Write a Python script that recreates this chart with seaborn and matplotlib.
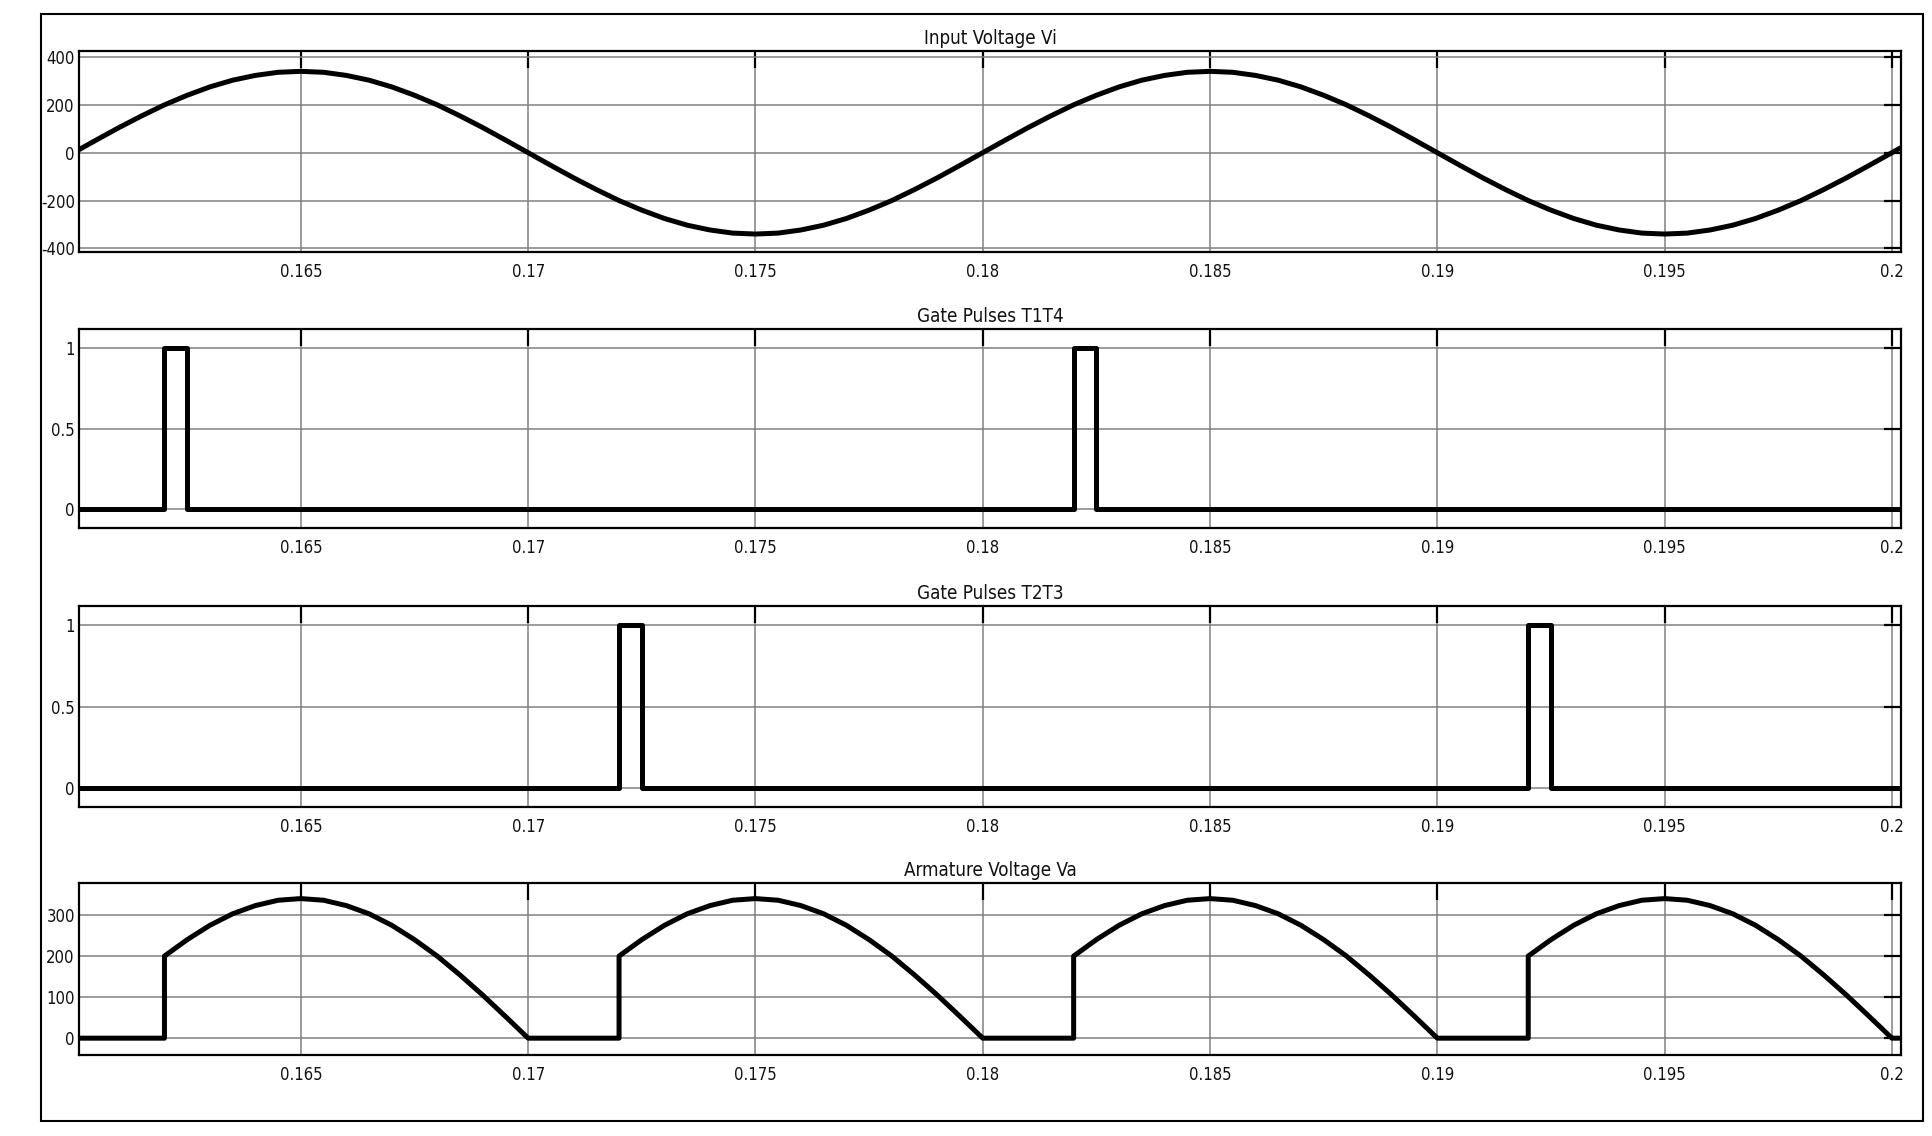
import matplotlib
matplotlib.use('Agg')
import matplotlib.pyplot as plt
import matplotlib.patches as mpatches
from matplotlib import font_manager
import seaborn as sns
import pandas as pd

# time axis for the sine traces (s)
t_in = [0.1600, 0.1605, 0.1610, 0.1615, 0.1620, 0.1625, 0.1630, 0.1635, 0.1640, 0.1645,
        0.1650, 0.1655, 0.1660, 0.1665, 0.1670, 0.1675, 0.1680, 0.1685, 0.1690, 0.1695,
        0.1700, 0.1705, 0.1710, 0.1715, 0.1720, 0.1725, 0.1730, 0.1735, 0.1740, 0.1745,
        0.1750, 0.1755, 0.1760, 0.1765, 0.1770, 0.1775, 0.1780, 0.1785, 0.1790, 0.1795,
        0.1800, 0.1805, 0.1810, 0.1815, 0.1820, 0.1825, 0.1830, 0.1835, 0.1840, 0.1845,
        0.1850, 0.1855, 0.1860, 0.1865, 0.1870, 0.1875, 0.1880, 0.1885, 0.1890, 0.1895,
        0.1900, 0.1905, 0.1910, 0.1915, 0.1920, 0.1925, 0.1930, 0.1935, 0.1940, 0.1945,
        0.1950, 0.1955, 0.1960, 0.1965, 0.1970, 0.1975, 0.1980, 0.1985, 0.1990, 0.1995,
        0.2000, 0.2005]
v_in = [0, 53, 105, 154, 200, 240, 275, 303, 323, 336,
        340, 336, 323, 303, 275, 240, 200, 154, 105, 53,
        0, -53, -105, -154, -200, -240, -275, -303, -323, -336,
        -340, -336, -323, -303, -275, -240, -200, -154, -105, -53,
        0, 53, 105, 154, 200, 240, 275, 303, 323, 336,
        340, 336, 323, 303, 275, 240, 200, 154, 105, 53,
        0, -53, -105, -154, -200, -240, -275, -303, -323, -336,
        -340, -336, -323, -303, -275, -240, -200, -154, -105, -53,
        0, 53]

# gate pulses
t_g14 = [0.1600, 0.1620, 0.1620, 0.1625, 0.1625, 0.1820, 0.1820, 0.1825, 0.1825, 0.2005]
v_g14 = [0, 0, 1, 1, 0, 0, 1, 1, 0, 0]
t_g23 = [0.1600, 0.1720, 0.1720, 0.1725, 0.1725, 0.1920, 0.1920, 0.1925, 0.1925, 0.2005]
v_g23 = [0, 0, 1, 1, 0, 0, 1, 1, 0, 0]

# armature voltage
t_arm = [0.1600, 0.1620,
         0.1620, 0.1625, 0.1630, 0.1635, 0.1640, 0.1645, 0.1650, 0.1655, 0.1660,
         0.1665, 0.1670, 0.1675, 0.1680, 0.1685, 0.1690, 0.1695, 0.1700, 0.1720,
         0.1720, 0.1725, 0.1730, 0.1735, 0.1740, 0.1745, 0.1750, 0.1755, 0.1760,
         0.1765, 0.1770, 0.1775, 0.1780, 0.1785, 0.1790, 0.1795, 0.1800, 0.1820,
         0.1820, 0.1825, 0.1830, 0.1835, 0.1840, 0.1845, 0.1850, 0.1855, 0.1860,
         0.1865, 0.1870, 0.1875, 0.1880, 0.1885, 0.1890, 0.1895, 0.1900, 0.1920,
         0.1920, 0.1925, 0.1930, 0.1935, 0.1940, 0.1945, 0.1950, 0.1955, 0.1960,
         0.1965, 0.1970, 0.1975, 0.1980, 0.1985, 0.1990, 0.1995, 0.2000, 0.2005]
v_arm = [0, 0,
         200, 240, 275, 303, 323, 336, 340, 336, 323,
         303, 275, 240, 200, 154, 105, 53, 0, 0,
         200, 240, 275, 303, 323, 336, 340, 336, 323,
         303, 275, 240, 200, 154, 105, 53, 0, 0,
         200, 240, 275, 303, 323, 336, 340, 336, 323,
         303, 275, 240, 200, 154, 105, 53, 0, 0,
         200, 240, 275, 303, 323, 336, 340, 336, 323,
         303, 275, 240, 200, 154, 105, 53, 0, 0]

titles = ['Input Voltage Vi', 'Gate Pulses T1T4', 'Gate Pulses T2T3', 'Armature Voltage Va']
x_ticks = [0.165, 0.17, 0.175, 0.18, 0.185, 0.19, 0.195, 0.2]
x_labels = ['0.165', '0.17', '0.175', '0.18', '0.185', '0.19', '0.195', '0.2']
y_ticks = [[-400, -200, 0, 200, 400], [0, 0.5, 1], [0, 0.5, 1], [0, 100, 200, 300]]
y_labels = [['-400', '-200', '0', '200', '400'], ['0', '0.5', '1'], ['0', '0.5', '1'],
            ['0', '100', '200', '300']]
y_lims = [(-415, 425), (-0.12, 1.12), (-0.12, 1.12), (-41, 378)]

sns.set_style('white')

# pick a narrow font if one is around, the original uses a condensed face
names = {f.name for f in font_manager.fontManager.ttflist}
stretch = {(f.name, f.stretch) for f in font_manager.fontManager.ttflist}
if 'Liberation Sans Narrow' in names:
    font = dict(family=['Liberation Sans Narrow', 'DejaVu Sans'])
    tick_size, title_size = 13, 15
elif ('DejaVu Sans', 'condensed') in stretch or ('DejaVu Sans', 'semi-condensed') in stretch:
    font = dict(family=['DejaVu Sans'], stretch='condensed')
    tick_size, title_size = 12, 13.5
else:
    font = dict(family=['Liberation Sans', 'DejaVu Sans'])
    tick_size, title_size = 11.5, 13.5
plt.rcParams['font.family'] = font['family']
if 'stretch' in font:
    plt.rcParams['font.stretch'] = font['stretch']

W, H = 1932, 1136
fig = plt.figure(figsize=(W / 100, H / 100), dpi=100)

# panel boxes in pixels: (top, bottom)
boxes = [(51, 252), (329, 528), (606, 807), (883, 1055)]
left, right = 79, 1901

series = [(t_in, v_in), (t_g14, v_g14), (t_g23, v_g23), (t_arm, v_arm)]

for i, ((top, bot), (tt, vv)) in enumerate(zip(boxes, series)):
    ax = fig.add_axes([left / W, 1 - bot / H, (right - left) / W, (bot - top) / H])
    df = pd.DataFrame({'t': tt, 'v': vv})
    sns.lineplot(data=df, x='t', y='v', ax=ax, color='black', lw=3.6,
                 estimator=None, sort=False, zorder=3)
    ax.set_xlim(0.16012, 0.2002)
    ax.set_ylim(*y_lims[i])
    ax.set_xticks(x_ticks)
    ax.set_xticklabels(x_labels)
    ax.set_yticks(y_ticks[i])
    ax.set_yticklabels(y_labels[i])
    ax.set_xlabel('')
    ax.set_ylabel('')
    ax.grid(True, color='#808080', lw=1.1)
    ax.tick_params(direction='in', length=12, width=1.6, color='black', labelcolor='#111111',
                   top=True, right=True, labelsize=tick_size, pad=3)
    ax.tick_params(axis='x', pad=8)
    for s in ax.spines.values():
        s.set_color('black')
        s.set_linewidth(1.6)
    ax.set_title(titles[i], fontsize=title_size, pad=5, color='#111111')

fig.patches.append(mpatches.Rectangle((41 / W, 1 - 1121 / H), (1923 - 41) / W, (1121 - 14) / H,
                                      fill=False, lw=1.5, edgecolor='black',
                                      transform=fig.transFigure))

fig.savefig('out.png', dpi=100)
